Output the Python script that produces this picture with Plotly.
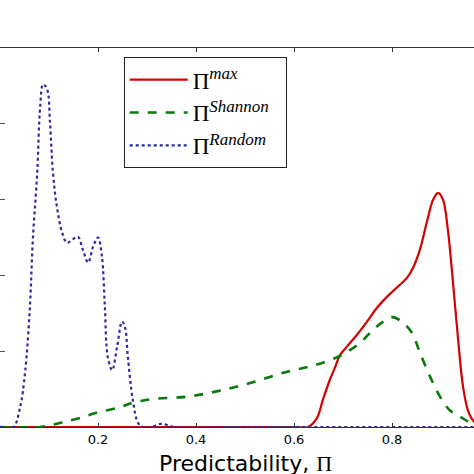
import plotly.graph_objects as go

# predictability values (x) and densities
x_max = [0.0, 0.60, 0.629, 0.647, 0.659, 0.673, 0.684, 0.694, 0.708, 0.729, 0.749, 0.769,
         0.790, 0.810, 0.831, 0.843, 0.857, 0.871, 0.884, 0.894, 0.904, 0.914, 0.924,
         0.935, 0.945, 0.955, 0.965, 0.98, 1.0]
y_max = [0.0, 0.0, 0.0, 0.12, 0.36, 0.62, 0.79, 0.95, 1.06, 1.22, 1.39, 1.57,
         1.72, 1.84, 1.97, 2.10, 2.34, 2.70, 3.00, 3.09, 3.00, 2.60, 1.94,
         1.15, 0.53, 0.22, 0.09, 0.02, 0.0]

x_shannon = [0.0, 0.082, 0.108, 0.133, 0.163, 0.204, 0.245, 0.271, 0.312, 0.382, 0.449,
             0.516, 0.586, 0.639, 0.688, 0.708, 0.735, 0.761, 0.782, 0.800, 0.820, 0.841,
             0.857, 0.878, 0.898, 0.918, 0.943, 0.963, 1.0]
y_shannon = [0.0, 0.0, 0.03, 0.07, 0.12, 0.20, 0.26, 0.32, 0.37, 0.40, 0.48,
             0.59, 0.73, 0.81, 0.92, 0.99, 1.11, 1.28, 1.39, 1.45, 1.39, 1.24,
             0.98, 0.66, 0.40, 0.22, 0.12, 0.05, 0.0]

x_random = [0.0, 0.027, 0.041, 0.051, 0.061, 0.067, 0.076, 0.082, 0.088, 0.096, 0.102,
            0.108, 0.116, 0.127, 0.137, 0.147, 0.159, 0.169, 0.180, 0.190, 0.200, 0.208,
            0.214, 0.220, 0.229, 0.239, 0.249, 0.255, 0.261, 0.271, 0.282, 0.292,
            0.31, 0.325, 0.34, 0.355, 0.5, 1.0]
y_random = [0.0, 0.0, 0.26, 0.71, 1.58, 2.47, 3.36, 4.23, 4.52, 4.46, 4.02,
            3.36, 2.91, 2.56, 2.43, 2.47, 2.51, 2.34, 2.17, 2.38, 2.50, 2.25,
            1.59, 0.92, 0.75, 1.06, 1.39, 1.32, 0.92, 0.36, 0.05, 0.0,
            0.0, 0.04, 0.03, 0.0, 0.0, 0.0]

def label(sup):
    return ("Π<sup><span style='font-family:Liberation Serif;font-size:17px'>"
            "<i>%s</i></span></sup>&nbsp;&nbsp;" % sup)

fig = go.Figure()

fig.add_trace(go.Scatter(x=x_max, y=y_max, mode='lines', line_shape='spline',
                         line=dict(color='#d40000', width=2.2),
                         name=label('max')))
fig.add_trace(go.Scatter(x=x_shannon, y=y_shannon, mode='lines', line_shape='spline',
                         line=dict(color='#0a7a0a', width=2.6, dash='dash'),
                         name=label('Shannon')))
fig.add_trace(go.Scatter(x=x_random, y=y_random, mode='lines', line_shape='spline',
                         line=dict(color='#2a2aa0', width=2.2, dash='dot'),
                         name=label('Random')))

# axis title sits at the centre of the full (cropped) axis, x = 0.5
fig.add_annotation(x=0.5, xref='x', y=-0.095, yref='paper', yanchor='middle',
                   text="Predictability, <span style='font-family:Liberation Serif'>Π</span>",
                   showarrow=False, font=dict(family='DejaVu Sans', size=22, color='black'))

fig.update_layout(
    width=474, height=474,
    margin=dict(l=0, r=0, t=48, b=47),
    paper_bgcolor='white', plot_bgcolor='white',
    showlegend=True,
    legend=dict(x=0.261, y=0.976, xanchor='left', yanchor='top',
                bordercolor='#222222', borderwidth=1, bgcolor='white',
                itemwidth=58,
                font=dict(family='Liberation Serif', size=23, color='black')),
    xaxis=dict(range=[0, 474 / 490], tickvals=[0, 0.2, 0.4, 0.6, 0.8],
               ticktext=['0.0', '0.2', '0.4', '0.6', '0.8'],
               ticks='inside', ticklen=4, tickcolor='#333333',
               showline=True, linecolor='#333333', linewidth=1, mirror='ticks',
               showgrid=False, zeroline=False,
               tickfont=dict(family='DejaVu Sans', size=13, color='black')),
    yaxis=dict(range=[0, 5], tickvals=[0, 1, 2, 3, 4, 5], showticklabels=False,
               ticks='inside', ticklen=5, tickcolor='#555555',
               showline=True, linecolor='#aaaaaa', linewidth=2, mirror=False,
               showgrid=False, zeroline=False),
)

fig.write_html("out.html", config={'displayModeBar': False},
               post_script="document.body.style.margin='0px';")
